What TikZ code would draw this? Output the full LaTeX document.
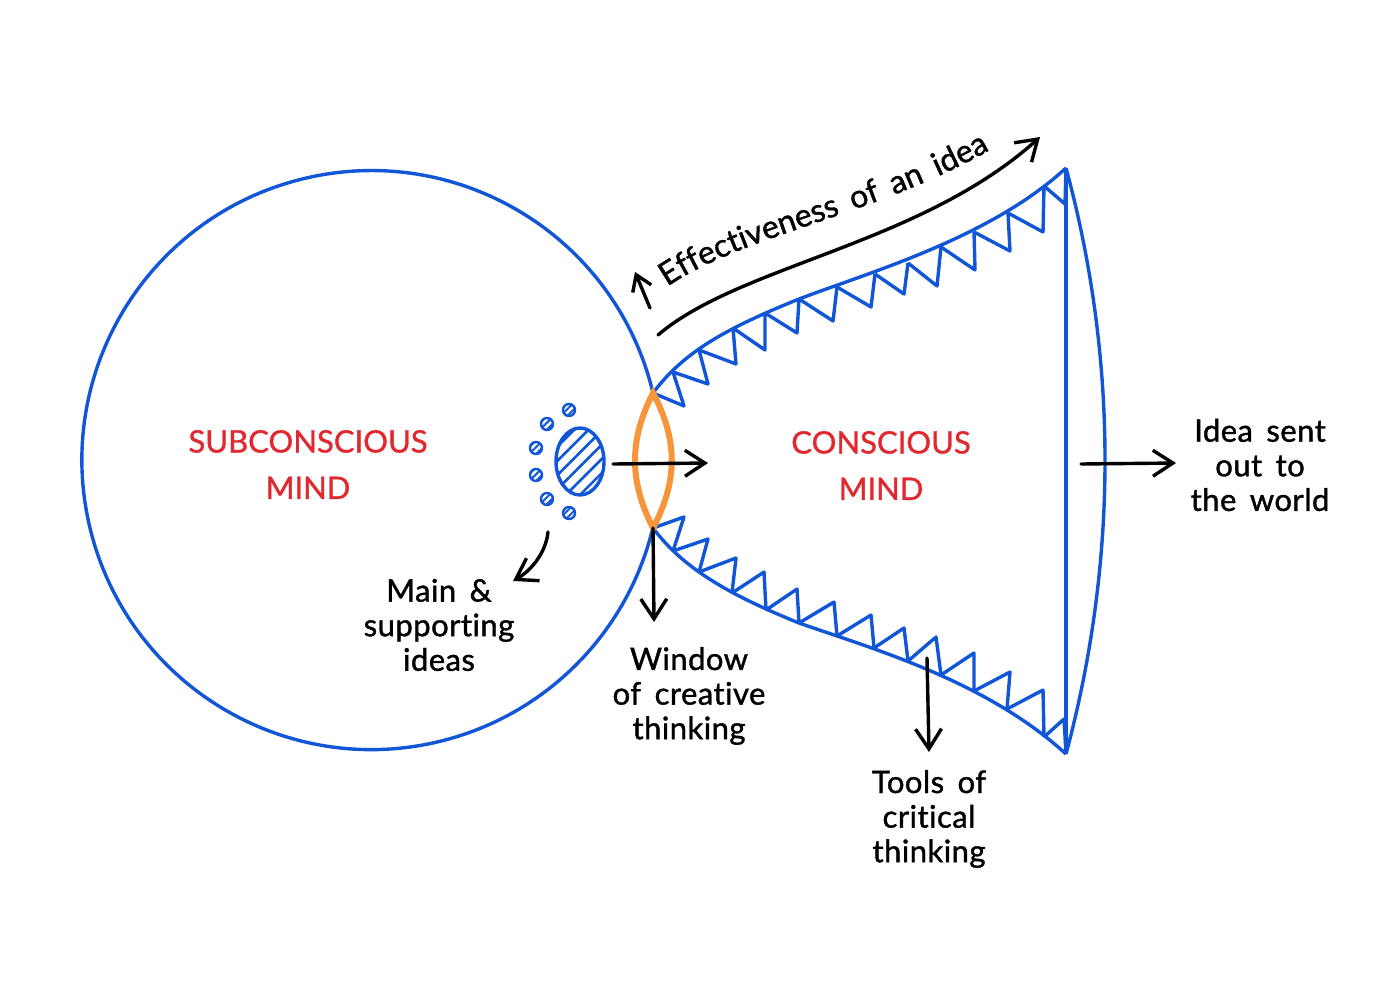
\documentclass[tikz,border=0pt]{standalone}
\usepackage{fontspec}
\newfontfamily\handfont[FakeBold=1.2,LetterSpace=1.5,WordSpace=1.6,Ligatures=NoCommon]{Lato}
\newfontfamily\capsfont[FakeBold=1,Ligatures=NoCommon]{Lato}
\usetikzlibrary{arrows.meta,decorations.text,patterns.meta,shapes.geometric}
\definecolor{mindblue}{HTML}{1256D8}
\definecolor{mindred}{HTML}{E1282E}
\definecolor{windoworange}{HTML}{F7953B}
\newcommand{\labelfont}{\handfont\fontsize{15.5}{17.3}\selectfont}
\newcommand{\curvefont}{\handfont\fontsize{16}{17.3}\selectfont}
\newcommand{\minds}{\capsfont\fontsize{15.5}{17.3}\selectfont}
\tikzset{
	bluepen/.style={draw=mindblue, line width=1.7pt, line join=round},
	hatched/.style={bluepen, ellipse, inner sep=0pt, pattern={Lines[angle=45,distance=5pt,line width=1.3pt]}, pattern color=mindblue},
	thought/.style={black, line width=1.7pt, line cap=round, -{Straight Barb[length=10pt,width=13pt,line width=1.7pt]}},
	smallthought/.style={black, line width=1.7pt, line cap=round, -{Straight Barb[length=7.5pt,width=10pt,line width=1.7pt]}},
	blacklabel/.style={align=center, font=\labelfont},
	redlabel/.style={align=center, font=\minds, text=mindred},
}
\begin{document}
\begin{tikzpicture}[x=0.5pt, y=-0.5pt]
	\useasboundingbox[fill=white] (0,0) rectangle (1400,990);
	% upper and lower edge of the cone: point on the edge / tip of the tooth
	\def\upperedge {0/653/393/684/406, 1/673/372/708/384, 2/699/350/736/364, 3/733/328/765/350, 4/765/313/797/333, 5/799/299/833/321, 6/837/287/871/307, 7/875/274/904/294, 8/908/263/937/286, 9/941/247/975/270, 10/974/232/1010/251, 11/1008/213/1043/232, 12/1044/186/1065/204, 13/1066/168/1066/168};
	\def\loweredge {0/653/528/684/517, 1/673/551/708/539, 2/699/572/736/558, 3/732/593/764/572, 4/766/610/797/589, 5/799/623/834/602, 6/837/636/871/615, 7/874/648/904/628, 8/908/661/936/637, 9/941/675/974/653, 10/974/691/1010/672, 11/1007/709/1043/690, 12/1044/737/1064/719, 13/1066/754/1066/754};
	\foreach \i/\x/\y/\tipx/\tipy in \upperedge{
		\coordinate (up\i) at (\x,\y);
		\coordinate (uptip\i) at (\tipx,\tipy);
	}
	\foreach \i/\x/\y/\tipx/\tipy in \loweredge{
		\coordinate (low\i) at (\x,\y);
		\coordinate (lowtip\i) at (\tipx,\tipy);
	}
	% circle of the subconscious, open at the window
	\draw[bluepen] (up0) arc[start angle=-13.4, end angle=-346.6, radius=289.5];
	% edges and teeth of the cone
	\draw[bluepen] (up0) .. controls (685,350) and (730,327) .. (up5) .. controls (870,272) and (990,238) .. (up13);
	\draw[bluepen] (low0) .. controls (685,571) and (735,597) .. (low5) .. controls (870,648) and (985,680) .. (low13);
	\foreach \i [evaluate=\i as \j using int(\i+1)] in {0,...,12}{
		\draw[bluepen] (up\i) -- (uptip\i) -- (up\j);
		\draw[bluepen] (low\i) -- (lowtip\i) -- (low\j);
	}
	% mouth of the cone
	\draw[bluepen] (up13) -- (low13);
	\draw[bluepen] (up13) .. controls (1118,360) and (1118,560) .. (low13);
	% window
	\draw[windoworange, line width=3pt] (up0) .. controls (629,440) and (629,481) .. (low0) .. controls (678,481) and (678,440) .. (up0) -- cycle;
	% ideas
	\node[hatched, minimum width=24pt, minimum height=33.5pt] (mainidea) at (580,461.5) {};
	\foreach \label/\x/\y in {a/569/410, b/547/424, c/536/448, d/536/475, e/547/499, f/569/513}{
		\node[hatched, circle, minimum size=6pt, pattern={Lines[angle=45,distance=2.4pt,line width=1pt]}, line width=1.2pt] (idea\label) at (\x,\y) {};
	}
	% labels
	\node[redlabel] (subconscious) at (308,464.5) {SUBCONSCIOUS\\[5.9pt]MIND};
	\node[redlabel] (conscious) at (881,465.5) {CONSCIOUS\\[5.9pt]MIND};
	\node[blacklabel] (ideaslabel) at (439,625) {Main \&\\supporting\\ideas};
	\node[blacklabel] (windowlabel) at (689,696) {Window\\of creative\\thinking};
	\node[blacklabel] (toolslabel) at (929,819) {Tools of\\critical\\thinking};
	\node[blacklabel] (worldlabel) at (1260,465) {Idea sent\\out to\\the world};
	\path[decorate, decoration={text along path, text align={left indent=2pt}, text={|\curvefont|Effectiveness of an idea}}]
		(664,289) .. controls (740,235) and (880,215) .. (995,147);
	% arrows
	\coordinate (flowstart) at (613,464);
	\coordinate (flowend) at (708,463);
	\coordinate (outstart) at (1081,464);
	\coordinate (outend) at (1176,463);
	\coordinate (windowend) at (654,622);
	\coordinate (toolsstart) at (927,658);
	\coordinate (toolsend) at (929,752);
	\coordinate (upstart) at (650,308);
	\coordinate (upend) at (635,272);
	\coordinate (ideasstart) at (548,532);
	\coordinate (ideasend) at (513,581);
	\coordinate (risestart) at (658,335);
	\coordinate (riseend) at (1040,137);
	\draw[thought] (flowstart) -- (flowend);
	\draw[thought] (outstart) -- (outend);
	\draw[thought] (low0) -- (windowend);
	\draw[thought] (toolsstart) -- (toolsend);
	\draw[smallthought] (upstart) -- (upend);
	\draw[thought] (ideasstart) .. controls (546,552) and (532,570) .. (ideasend);
	\draw[thought] (risestart) .. controls (740,265) and (920,245) .. (riseend);
\end{tikzpicture}
\end{document}
